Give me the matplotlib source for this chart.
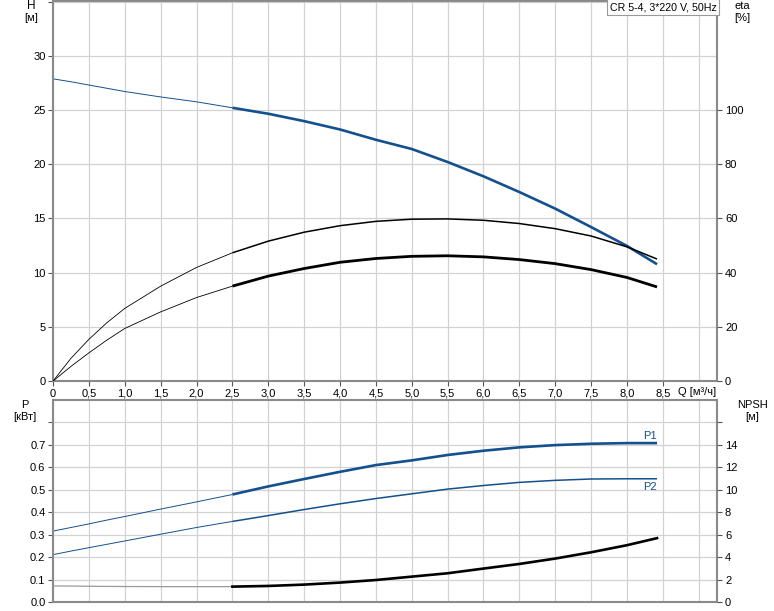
import matplotlib
matplotlib.use("Agg")
import matplotlib.pyplot as plt
import numpy as np

plt.rcParams['font.family'] = ['Liberation Sans', 'DejaVu Sans']

# расход, м3/ч (точки)
Q = [0.0, 0.25, 0.5, 0.75, 1.0, 1.5, 2.0, 2.5, 3.0, 3.5, 4.0, 4.5, 5.0, 5.5, 6.0,
     6.5, 7.0, 7.5, 8.0, 8.42]
# напор H, м
H = [27.87, 27.6, 27.3, 27.0, 26.7, 26.2, 25.75, 25.2, 24.65, 23.97, 23.2, 22.25,
     21.4, 20.2, 18.88, 17.43, 15.9, 14.2, 12.46, 10.77]
# КПД, %
ETA_1 = [0.0, 8.4, 15.4, 21.5, 26.8, 35.0, 41.9, 47.3, 51.6, 54.9, 57.3, 58.9,
         59.7, 59.8, 59.3, 58.1, 56.2, 53.5, 49.5, 45.0]
ETA_2 = [0.0, 5.4, 10.4, 15.1, 19.4, 25.5, 30.8, 35.0, 38.7, 41.5, 43.8, 45.2,
         46.0, 46.2, 45.8, 44.8, 43.3, 41.1, 38.2, 34.7]
# мощность, кВт
P1 = [0.316, 0.332, 0.348, 0.365, 0.381, 0.414, 0.446, 0.479, 0.515, 0.548, 0.580,
      0.610, 0.631, 0.655, 0.674, 0.689, 0.699, 0.705, 0.708, 0.708]
P2 = [0.211, 0.227, 0.242, 0.257, 0.272, 0.302, 0.332, 0.359, 0.385, 0.412, 0.4375,
      0.461, 0.482, 0.503, 0.519, 0.533, 0.542, 0.548, 0.549, 0.549]
# NPSH, м
NPSH = [1.43, 1.42, 1.40, 1.39, 1.38, 1.37, 1.37, 1.37, 1.43, 1.55, 1.73, 1.96,
        2.26, 2.56, 2.98, 3.39, 3.87, 4.43, 5.06, 5.69]

I0 = 7  # с Q = 2,5 начинается рабочая зона (жирная линия)

XTICKS = [0, 0.5, 1, 1.5, 2, 2.5, 3, 3.5, 4, 4.5, 5, 5.5, 6, 6.5, 7, 7.5, 8, 8.5]
XLABELS = ["0", "0,5", "1,0", "1,5", "2,0", "2,5", "3,0", "3,5", "4,0", "4,5",
           "5,0", "5,5", "6,0", "6,5", "7,0", "7,5", "8,0", "8,5"]
H_TICKS = [0, 5, 10, 15, 20, 25, 30]
ETA_TICKS = [0, 20, 40, 60, 80, 100]
P_TICKS = [0.0, 0.1, 0.2, 0.3, 0.4, 0.5, 0.6, 0.7, 0.8]
NPSH_TICKS = [0, 2, 4, 6, 8, 10, 12, 14, 16]

BLUE = "#13508e"
SPINE = "#8a8a8a"
GRID = "#d2d2d2"
FS = 8
W, HH = 774, 611
XMAX = 9.26


def style(ax):
    for s in ax.spines.values():
        s.set_color(SPINE)
        s.set_linewidth(1.5)
    ax.set_xlim(0, XMAX)
    ax.set_xticks(XTICKS)
    ax.set_xticks([9.0], minor=True)
    ax.grid(True, which="both", axis="x", color=GRID, lw=0.9)
    ax.grid(True, axis="y", color=GRID, lw=0.9)
    ax.tick_params(which="minor", length=0)
    ax.tick_params(direction="out", length=3.5, width=0.8, color="#555",
                   labelsize=FS, pad=2)
    ax.set_axisbelow(True)


def seg(ax, x, y, c, lw_thin, lw_thick):
    ax.plot(x[:I0 + 1], y[:I0 + 1], color=c, lw=lw_thin, solid_capstyle="butt")
    ax.plot(x[I0:], y[I0:], color=c, lw=lw_thick, solid_capstyle="butt")


fig = plt.figure(figsize=(W / 100, HH / 100), dpi=100)
L, R = 53.1 / W, 717.3 / W

# --- верхний график: H и eta ---
ax1 = fig.add_axes([L, 1 - 381 / HH, R - L, 380 / HH])
style(ax1)
ax1.set_ylim(0, 35.05)
ax1.set_yticks([0, 5, 10, 15, 20, 25, 30, 35])
ax1.set_yticklabels([str(v) for v in H_TICKS] + [""])
ax1.set_xticklabels(XLABELS)

ax1b = ax1.twinx()
ax1b.set_ylim(0, 35.05 * 4)
ax1b.set_yticks(ETA_TICKS)
ax1b.tick_params(direction="out", length=3.5, width=0.8, color="#555",
                 labelsize=FS, pad=2)
for s in ax1b.spines.values():
    s.set_visible(False)

seg(ax1, Q, H, BLUE, 0.7, 1.9)
seg(ax1b, Q, ETA_1, "black", 0.6, 1.1)
seg(ax1b, Q, ETA_2, "black", 0.6, 2.0)

ax1.text(0.9985, 0.997, "CR 5-4, 3*220 V, 50Hz", transform=ax1.transAxes,
         ha="right", va="top", fontsize=FS - 0.3,
         bbox=dict(boxstyle="square,pad=0.28", fc="white", ec="#999", lw=0.8))

fig.text(31 / W, 1 - 6 / HH, "H", ha="center", va="center", fontsize=FS + 0.5)
fig.text(31 / W, 1 - 18 / HH, "[м]", ha="center", va="center", fontsize=FS)
fig.text(742 / W, 1 - 6 / HH, "eta", ha="center", va="center", fontsize=FS)
fig.text(742 / W, 1 - 18 / HH, "[%]", ha="center", va="center", fontsize=FS)
fig.text(697 / W, 1 - 392 / HH, "Q [м³/ч]", ha="center", va="center", fontsize=FS)

# --- нижний график: P1, P2, NPSH ---
ax2 = fig.add_axes([L, 1 - 602 / HH, R - L, 202 / HH])
style(ax2)
ax2.set_ylim(0, 0.9)
ax2.set_yticks(P_TICKS)
ax2.set_yticklabels([f"{v:.1f}" for v in P_TICKS[:-1]] + [""])
ax2.set_xticklabels([])
ax2.tick_params(axis="x", length=0)

ax2b = ax2.twinx()
ax2b.set_ylim(0, 18)
ax2b.set_yticks(NPSH_TICKS)
ax2b.set_yticklabels([str(v) for v in NPSH_TICKS[:-1]] + [""])
ax2b.tick_params(direction="out", length=3.5, width=0.8, color="#555",
                 labelsize=FS, pad=2)
for s in ax2b.spines.values():
    s.set_visible(False)

seg(ax2, Q, P1, BLUE, 0.7, 1.9)
seg(ax2, Q, P2, BLUE, 0.7, 1.1)
ax2b.plot(Q[:I0 + 1], NPSH[:I0 + 1], color="#9a9a9a", lw=0.9)
ax2b.plot(Q[I0:], NPSH[I0:], color="black", lw=1.9)

ax2.text(8.32, 0.741, "P1", color=BLUE, ha="center", va="center", fontsize=FS)
ax2.text(8.32, 0.513, "P2", color=BLUE, ha="center", va="center", fontsize=FS)

fig.text(25 / W, 1 - 405 / HH, "P", ha="center", va="center", fontsize=FS)
fig.text(25 / W, 1 - 417 / HH, "[кВт]", ha="center", va="center", fontsize=FS)
fig.text(752 / W, 1 - 405 / HH, "NPSH", ha="center", va="center", fontsize=FS)
fig.text(752 / W, 1 - 417 / HH, "[м]", ha="center", va="center", fontsize=FS)

fig.savefig("out.png", dpi=100)
